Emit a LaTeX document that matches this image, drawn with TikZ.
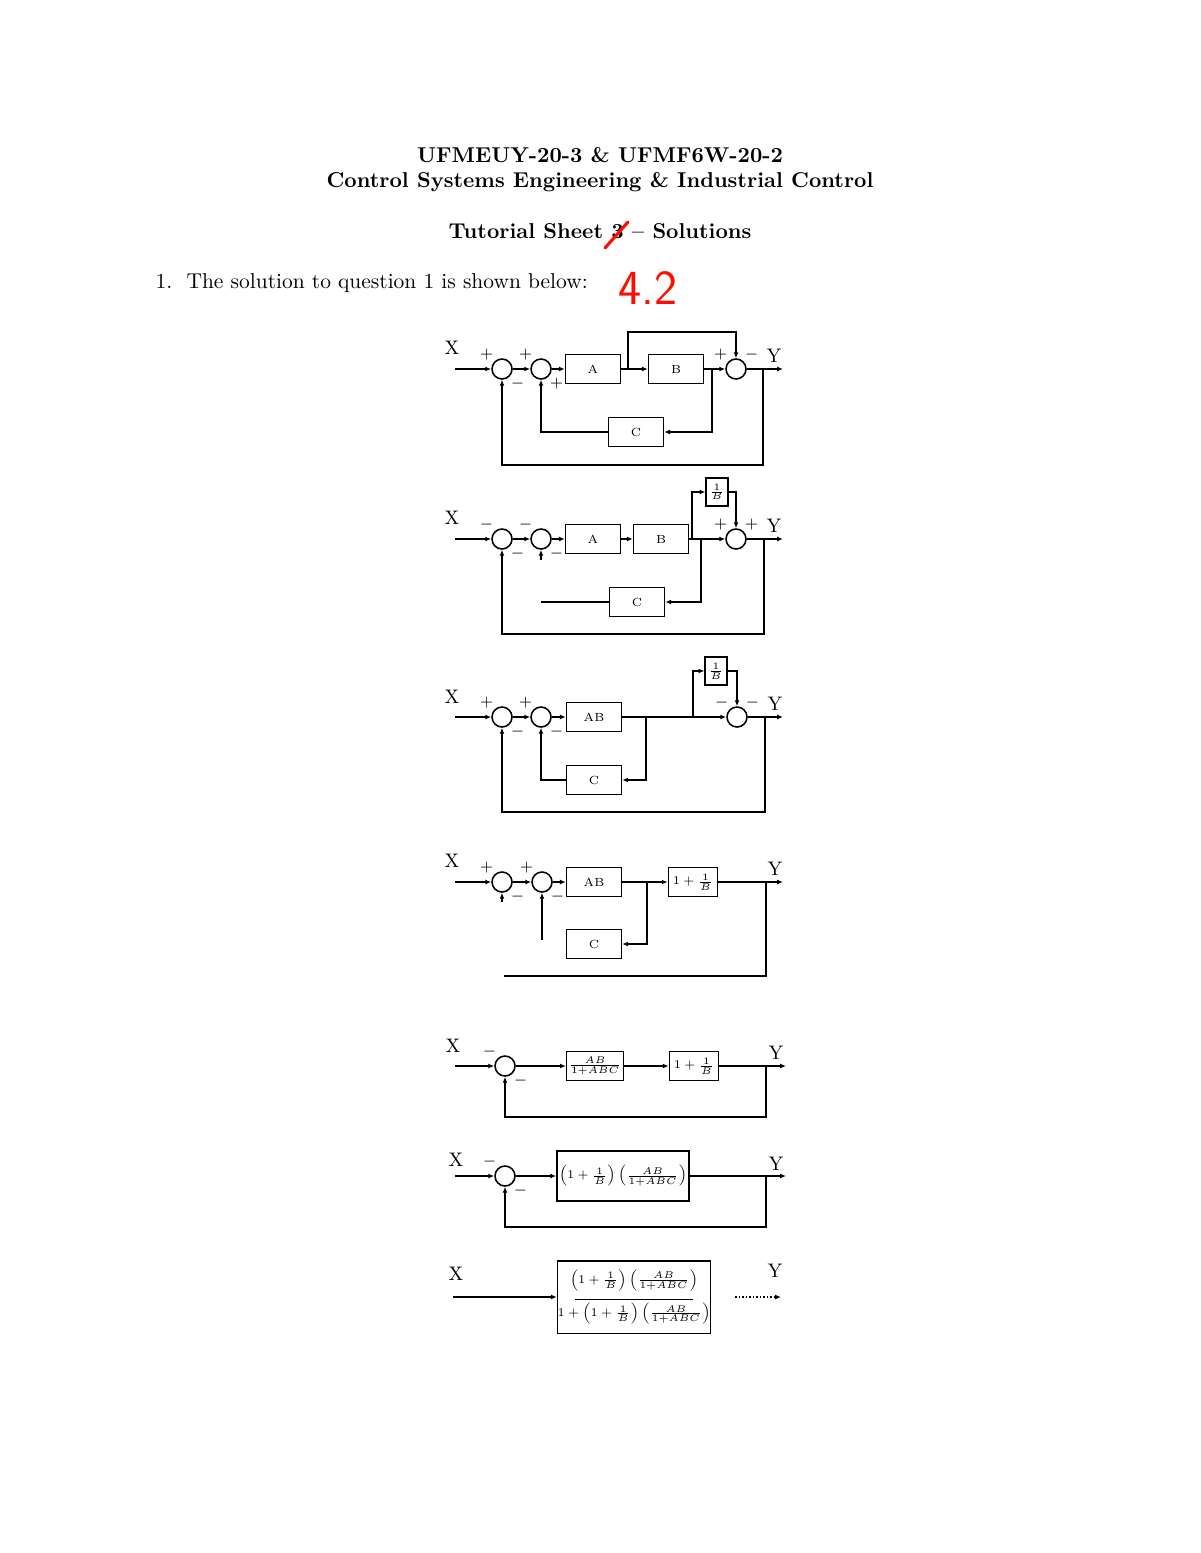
\documentclass[tikz,border=0pt,11pt]{standalone}
\usepackage{amsmath,amssymb}
\usetikzlibrary{arrows.meta,calc}
\tikzset{
  blk/.style={draw,thick,minimum width=28pt,minimum height=14.8pt,inner sep=1pt,font=\tiny},
  sbox/.style={draw,thick,minimum width=11pt,minimum height=14pt,inner sep=0.5pt,font=\tiny},
  sumn/.style={draw,thick,circle,minimum size=10.2pt,inner sep=0pt},
  sig/.style={thick,-{Latex[length=3pt,width=2.5pt]}},
  ln/.style={thick},
  lbl/.style={font=\small},
  sgn/.style={font=\scriptsize,inner sep=0.5pt}
}
\begin{document}
\begin{tikzpicture}[x=0.51pt,y=-0.51pt]
        \useasboundingbox (0,0) rectangle (1200,1553);
        % heading
        \node[font=\bfseries] (t1) at (600,155) {UFMEUY-20-3 \& UFMF6W-20-2};
        \node[font=\bfseries] (t2) at (600,182) {Control Systems Engineering \& Industrial Control};
        \node[font=\bfseries] (t3) at (600,231) {Tutorial Sheet 3 -- Solutions};
        \draw[red!90!orange,line width=1.6pt,line cap=round] (605,248) -- (628,222);
        \node[text=red!90!orange,font=\sffamily\fontsize{25}{25}\selectfont] (hw) at (648,288) {4.2};
        \node[anchor=west] (q1) at (148,283) {1.\ \ The solution to question 1 is shown below:};
        % diagram 1
        \node[lbl] (x1) at (452,348) {X};
        \node[lbl] (y1) at (774,356) {Y};
        \coordinate (in1) at (455,369);
        \coordinate (out1) at (783,369);
        \node[sumn] (s11) at (502,369) {};
        \node[sumn] (s12) at (541,369) {};
        \node[blk] (a1) at (593,369) {A};
        \node[blk] (b1) at (676,369) {B};
        \node[sumn] (s13) at (736,369) {};
        \node[blk] (c1) at (636,432) {C};
        \draw[sig] (in1) -- (s11);
        \draw[sig] (s11) -- (s12);
        \draw[sig] (s12) -- (a1);
        \draw[sig] (a1) -- (b1);
        \draw[sig] (b1) -- (s13);
        \draw[sig] (s13) -- (out1);
        \draw[sig] (628,369) -- (628,332) -| (s13.north);
        \draw[sig] (712,369) |- (c1.east);
        \draw[sig] (c1.west) -| (s12.south);
        \draw[sig] (763,369) -- (763,465) -| (s11.south);
        \node[sgn,above left] at (s11.north west) {$+$};
        \node[sgn,below right] at (s11.south east) {$-$};
        \node[sgn,above left] at (s12.north west) {$+$};
        \node[sgn,below right] at (s12.south east) {$+$};
        \node[sgn,above left] at (s13.north west) {$+$};
        \node[sgn,above right] at (s13.north east) {$-$};
        % diagram 2
        \node[lbl] (x2) at (452,518) {X};
        \node[lbl] (y2) at (774,526) {Y};
        \coordinate (in2) at (455,539);
        \coordinate (out2) at (783,539);
        \node[sumn] (s21) at (502,539) {};
        \node[sumn] (s22) at (541,539) {};
        \node[blk] (a2) at (593,539) {A};
        \node[blk] (b2) at (661,539) {B};
        \node[sbox] (r2) at (717,492) {$\frac{1}{B}$};
        \node[sumn] (s23) at (736,539) {};
        \node[blk] (c2) at (637,602) {C};
        \draw[sig] (in2) -- (s21);
        \draw[sig] (s21) -- (s22);
        \draw[sig] (s22) -- (a2);
        \draw[sig] (a2) -- (b2);
        \draw[sig] (b2) -- (s23);
        \draw[sig] (s23) -- (out2);
        \draw[sig] (692,539) |- (r2.west);
        \draw[sig] (r2.east) -| (s23.north);
        \draw[sig] (701,539) |- (c2.east);
        \draw[ln] (c2.west) -- (541,602);
        \draw[sig] (541,560) -- (s22.south);
        \draw[sig] (764,539) -- (764,634) -| (s21.south);
        \node[sgn,above left] at (s21.north west) {$-$};
        \node[sgn,below right] at (s21.south east) {$-$};
        \node[sgn,above left] at (s22.north west) {$-$};
        \node[sgn,below right] at (s22.south east) {$-$};
        \node[sgn,above left] at (s23.north west) {$+$};
        \node[sgn,above right] at (s23.north east) {$+$};
        % diagram 3
        \node[lbl] (x3) at (452,697) {X};
        \node[lbl] (y3) at (775,704) {Y};
        \coordinate (in3) at (455,717);
        \coordinate (out3) at (783,717);
        \node[sumn] (s31) at (502,717) {};
        \node[sumn] (s32) at (541,717) {};
        \node[blk] (a3) at (594,717) {AB};
        \node[sbox] (r3) at (716,671) {$\frac{1}{B}$};
        \node[sumn] (s33) at (737,717) {};
        \node[blk] (c3) at (594,780) {C};
        \draw[sig] (in3) -- (s31);
        \draw[sig] (s31) -- (s32);
        \draw[sig] (s32) -- (a3);
        \draw[sig] (a3) -- (s33);
        \draw[sig] (s33) -- (out3);
        \draw[sig] (693,717) |- (r3.west);
        \draw[sig] (r3.east) -| (s33.north);
        \draw[sig] (646,717) |- (c3.east);
        \draw[sig] (c3.west) -| (s32.south);
        \draw[sig] (765,717) -- (765,812) -| (s31.south);
        \node[sgn,above left] at (s31.north west) {$+$};
        \node[sgn,below right] at (s31.south east) {$-$};
        \node[sgn,above left] at (s32.north west) {$+$};
        \node[sgn,below right] at (s32.south east) {$-$};
        \node[sgn,above left] at (s33.north west) {$-$};
        \node[sgn,above right] at (s33.north east) {$-$};
        % diagram 4
        \node[lbl] (x4) at (452,861) {X};
        \node[lbl] (y4) at (775,869) {Y};
        \coordinate (in4) at (455,882);
        \coordinate (out4) at (783,882);
        \node[sumn] (s41) at (502,882) {};
        \node[sumn] (s42) at (542,882) {};
        \node[blk] (a4) at (594,882) {AB};
        \node[blk,minimum width=25pt] (g4) at (693,882) {$1+\frac{1}{B}$};
        \node[blk] (c4) at (594,944) {C};
        \draw[sig] (in4) -- (s41);
        \draw[sig] (s41) -- (s42);
        \draw[sig] (s42) -- (a4);
        \draw[sig] (a4) -- (g4);
        \draw[sig] (g4) -- (out4);
        \draw[sig] (647,882) |- (c4.east);
        \draw[sig] (542,940) -- (s42.south);
        \draw[sig] (502,902) -- (s41.south);
        \draw[ln] (766,882) -- (766,976) -- (504,976);
        \node[sgn,above left] at (s41.north west) {$+$};
        \node[sgn,below right] at (s41.south east) {$-$};
        \node[sgn,above left] at (s42.north west) {$+$};
        \node[sgn,below right] at (s42.south east) {$-$};
        % diagram 5
        \node[lbl] (x5) at (453,1046) {X};
        \node[lbl] (y5) at (776,1053) {Y};
        \coordinate (in5) at (455,1066);
        \coordinate (out5) at (786,1066);
        \node[sumn] (s51) at (505,1066) {};
        \node[blk] (a5) at (595,1066) {$\frac{AB}{1+ABC}$};
        \node[blk,minimum width=25pt] (g5) at (694,1066) {$1+\frac{1}{B}$};
        \draw[sig] (in5) -- (s51);
        \draw[sig] (s51) -- (a5);
        \draw[sig] (a5) -- (g5);
        \draw[sig] (g5) -- (out5);
        \draw[sig] (766,1066) -- (766,1117) -| (s51.south);
        \node[sgn,above left] at (s51.north west) {$-$};
        \node[sgn,below right] at (s51.south east) {$-$};
        % diagram 6
        \node[lbl] (x6) at (456,1160) {X};
        \node[lbl] (y6) at (776,1164) {Y};
        \coordinate (in6) at (455,1176);
        \coordinate (out6) at (786,1176);
        \node[sumn] (s61) at (505,1176) {};
        \node[blk,minimum width=66pt,minimum height=25.5pt] (a6) at (623,1176)
            {$\left(1+\frac{1}{B}\right)\left(\frac{AB}{1+ABC}\right)$};
        \draw[sig] (in6) -- (s61);
        \draw[sig] (s61) -- (a6);
        \draw[sig] (a6) -- (out6);
        \draw[sig] (766,1176) -- (766,1227) -| (s61.south);
        \node[sgn,above left] at (s61.north west) {$-$};
        \node[sgn,below right] at (s61.south east) {$-$};
        % diagram 7
        \node[lbl] (x7) at (456,1274) {X};
        \node[lbl] (y7) at (775,1271) {Y};
        \coordinate (in7) at (453,1297);
        \coordinate (o7a) at (735,1297);
        \coordinate (o7b) at (781,1297);
        \node[blk,minimum width=74.5pt,minimum height=37pt,inner sep=0pt,align=center] (a7) at (634,1297)
            {$\left(1+\frac{1}{B}\right)\left(\frac{AB}{1+ABC}\right)$\\[1.5pt]
             \rule{60pt}{0.3pt}\\[1.5pt]
             $1+\left(1+\frac{1}{B}\right)\left(\frac{AB}{1+ABC}\right)$};
        \draw[sig] (in7) -- (a7);
        \draw[sig,densely dotted] (o7a) -- (o7b);
\end{tikzpicture}
\end{document}
